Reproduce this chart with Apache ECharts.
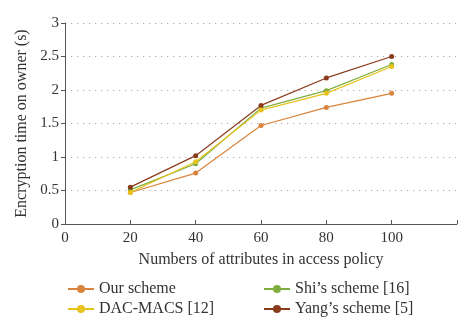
<!DOCTYPE html>
<html><head><meta charset="utf-8">
<script src="https://cdn.jsdelivr.net/npm/echarts@6/dist/echarts.min.js"></script>
<style>html,body{margin:0;padding:0;background:#fff}#c{width:474px;height:332px}</style>
</head><body><div id="c"></div>
<script>
const categories = [20, 40, 60, 80, 100];
const ourScheme = [0.47, 0.76, 1.47, 1.74, 1.95];
const dacMacs = [0.47, 0.93, 1.70, 1.95, 2.35];
const shiScheme = [0.51, 0.90, 1.73, 1.99, 2.38];
const yangScheme = [0.55, 1.02, 1.77, 2.18, 2.50];
const seriesNames = ['Our scheme', 'DAC-MACS [12]', 'Shi\u2019s scheme [16]', 'Yang\u2019s scheme [5]'];
const colors = ['#d9833b', '#e8c21c', '#7fae3e', '#8a3b1c'];
const allData = [ourScheme, dacMacs, shiScheme, yangScheme];
const font = 'Liberation Serif';

const chart = echarts.init(document.getElementById('c'));
const series = seriesNames.map((n, i) => ({
  name: n, type: 'line',
  data: categories.map((x, j) => [x, allData[i][j]]),
  symbol: 'circle', symbolSize: 5,
  itemStyle: { color: colors[i] },
  lineStyle: { color: colors[i], width: 1.2 },
  z: i === 1 ? 3 : 2
}));
chart.setOption({
  animation: false,
  textStyle: { fontFamily: font },
  grid: { left: 65, right: 17, top: 23, bottom: 108, containLabel: false },
  xAxis: {
    type: 'value', min: 0, max: 120, interval: 20,
    name: 'Numbers of attributes in access policy', nameLocation: 'middle', nameGap: 28,
    nameTextStyle: { fontFamily: font, fontSize: 16, color: '#333' },
    axisLine: { lineStyle: { color: '#555', width: 1 } },
    axisTick: { inside: true, length: 4, lineStyle: { color: '#555' } },
    axisLabel: { fontFamily: font, fontSize: 15, color: '#333', margin: 7,
      formatter: v => v === 120 ? '' : String(v) },
    splitLine: { show: false }
  },
  yAxis: {
    type: 'value', min: 0, max: 3, interval: 0.5,
    name: 'Encryption time on owner (s)', nameLocation: 'middle', nameGap: 29,
    nameTextStyle: { fontFamily: font, fontSize: 16, color: '#333' },
    axisLine: { show: true, lineStyle: { color: '#555', width: 1 } },
    axisTick: { show: true, length: 4, lineStyle: { color: '#555' } },
    axisLabel: { fontFamily: font, fontSize: 15, color: '#333', margin: 6 },
    splitLine: { show: true, lineStyle: { color: '#aaa', type: [1.2, 4.8], width: 1 } }
  },
  legend: [
    { data: [seriesNames[0], seriesNames[1]], orient: 'vertical', left: 62, top: 276, itemGap: 4,
      itemWidth: 26, itemHeight: 10, textStyle: { fontFamily: font, fontSize: 16, color: '#333' } },
    { data: [seriesNames[2], seriesNames[3]], orient: 'vertical', left: 258, top: 276, itemGap: 4,
      itemWidth: 26, itemHeight: 10, textStyle: { fontFamily: font, fontSize: 16, color: '#333' } }
  ],
  series: series
});
</script></body></html>
